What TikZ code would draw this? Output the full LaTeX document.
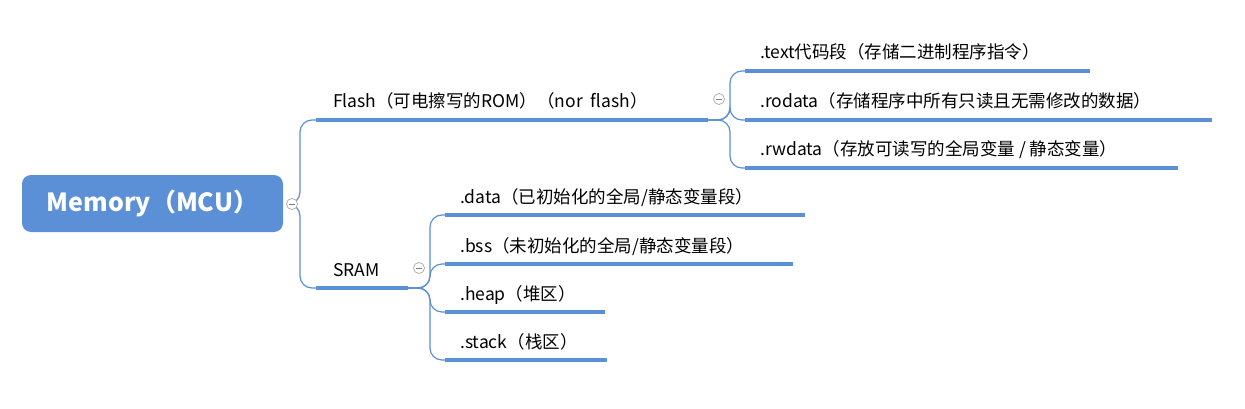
\documentclass[tikz,border=0pt]{standalone}
\usepackage{fontspec}
\setmainfont{Noto Sans CJK SC}
\definecolor{mb}{HTML}{5B8FD6}
\begin{document}
\begin{tikzpicture}[x=1pt,y=-1pt,
  lbl/.style={anchor=base west,inner sep=0pt,font=\fontsize{17.5}{20}\selectfont,text=black},
  ul/.style={draw=mb,line width=3.2pt},
  br/.style={draw=mb,line width=1.2pt,rounded corners=12pt},
  tog/.style={circle,draw=gray!70,fill=white,minimum size=11pt,inner sep=0pt,line width=0.7pt}]
\useasboundingbox (0,0) rectangle (1245,409);
\node[fill=mb,rounded corners=9pt,minimum width=261pt,minimum height=57pt,text=white,font=\bfseries\fontsize{25}{28}\selectfont] (root) at (152.5,203.5) {Memory（MCU）};
% Flash
\coordinate (f0) at (316,120); \coordinate (f1) at (708,120);
\draw[br] (292,204) -- (300,204) |- (f0);
\draw[ul] (f0) -- (f1);
\node[lbl] (flash) at (333,108) {Flash（可电擦写的ROM）（nor\ \ flash）};
\foreach \n/\y/\e/\t in {t/71/1090/{.text代码段（存储二进制程序指令）},
  r/120/1212/{.rodata（存储程序中所有只读且无需修改的数据）},
  w/168/1178/{.rwdata（存放可读写的全局变量 / 静态变量）}}{
  \coordinate (s\n) at (745,\y); \coordinate (e\n) at (\e,\y);
  \draw[br] (f1) -- (730,120) |- (s\n);
  \draw[ul] (s\n) -- (e\n);
  \node[lbl] (l\n) at (760,\y-12) {\t};
}
\node[tog] (tf) at (719,99) {}; \draw[gray,line width=0.7pt] ([xshift=2.5pt]tf.west) -- ([xshift=-2.5pt]tf.east);
% SRAM
\coordinate (g0) at (316,288); \coordinate (g1) at (408,288);
\draw[br] (292,204) -- (300,204) |- (g0);
\draw[ul] (g0) -- (g1);
\node[lbl] (sram) at (333,276) {SRAM};
\foreach \n/\y/\e/\t in {d/215/805/{.data（已初始化的全局/静态变量段）},
  b/264/793/{.bss（未初始化的全局/静态变量段）},
  h/312/605/{.heap（堆区）},
  k/360/607/{.stack（栈区）}}{
  \coordinate (s\n) at (445,\y); \coordinate (e\n) at (\e,\y);
  \draw[br] (g1) -- (430,288) |- (s\n);
  \draw[ul] (s\n) -- (e\n);
  \node[lbl] (l\n) at (460,\y-12) {\t};
}
\node[tog] (ts) at (419,268) {}; \draw[gray,line width=0.7pt] ([xshift=2.5pt]ts.west) -- ([xshift=-2.5pt]ts.east);
\node[tog] (tr) at (292,204) {}; \draw[gray,line width=0.7pt] ([xshift=2.5pt]tr.west) -- ([xshift=-2.5pt]tr.east);
\end{tikzpicture}
\end{document}
